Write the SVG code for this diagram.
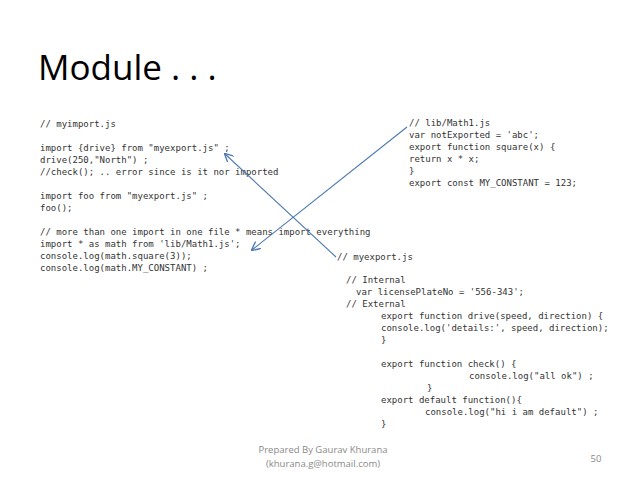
<svg xmlns="http://www.w3.org/2000/svg" width="638" height="479" viewBox="0 0 638 479">
<defs>
<style>
.c{font-family:"DejaVu Sans Mono","Liberation Mono",monospace;font-size:9px;fill:#333;white-space:pre}
.f{font-family:"Open Sans","Liberation Sans",sans-serif;font-size:9.5px;fill:#8a8a8a}
.a{stroke:#4a78b0;stroke-width:1.1;fill:none;marker-end:url(#ah)}
</style>
<marker id="ah" viewBox="0 0 10 10" refX="9" refY="5" markerWidth="9" markerHeight="9" orient="auto" markerUnits="userSpaceOnUse">
<path d="M0,0 L10,5 L0,10" fill="none" stroke="#4a78b0" stroke-width="1.5"/>
</marker>
</defs>
<rect width="638" height="479" fill="#fff"/>
<text x="38" y="80" font-family="'Open Sans','Liberation Sans',sans-serif" font-size="35" fill="#000">Module . . .</text>
<g id="myimport">
<text class="c" x="40" y="127">// myimport.js</text>
<text class="c" x="40" y="151">import {drive} from "myexport.js" ;</text>
<text class="c" x="40" y="163">drive(250,"North") ;</text>
<text class="c" x="40" y="175">//check(); .. error since is it nor imported</text>
<text class="c" x="40" y="199">import foo from "myexport.js" ;</text>
<text class="c" x="40" y="211">foo();</text>
<text class="c" x="40" y="235">// more than one import in one file * means import everything</text>
<text class="c" x="40" y="247">import * as math from 'lib/Math1.js';</text>
<text class="c" x="40" y="259">console.log(math.square(3));</text>
<text class="c" x="40" y="271">console.log(math.MY_CONSTANT) ;</text>
</g>
<g id="math1">
<text class="c" x="409" y="126">// lib/Math1.js</text>
<text class="c" x="409" y="138">var notExported = 'abc';</text>
<text class="c" x="409" y="150">export function square(x) {</text>
<text class="c" x="409" y="162">return x * x;</text>
<text class="c" x="409" y="174">}</text>
<text class="c" x="409" y="186">export const MY_CONSTANT = 123;</text>
</g>
<g id="myexport">
<text class="c" x="337" y="260">// myexport.js</text>
<text class="c" x="346" y="283">// Internal</text>
<text class="c" x="356" y="295">var licensePlateNo = '556-343';</text>
<text class="c" x="346" y="307">// External</text>
<text class="c" x="381" y="319">export function drive(speed, direction) {</text>
<text class="c" x="381" y="331">console.log('details:', speed, direction);</text>
<text class="c" x="381" y="343">}</text>
<text class="c" x="381" y="367">export function check() {</text>
<text class="c" x="469" y="379">console.log("all ok") ;</text>
<text class="c" x="427" y="391">}</text>
<text class="c" x="381" y="403">export default function(){</text>
<text class="c" x="425" y="415">console.log("hi i am default") ;</text>
<text class="c" x="381" y="427">}</text>
</g>
<g id="connectors">
<line class="a" x1="336" y1="257" x2="225" y2="154"/>
<line class="a" x1="407" y1="127" x2="252" y2="250"/>
</g>
<g id="footer">
<text class="f" x="323" y="453" text-anchor="middle">Prepared By Gaurav Khurana</text>
<text class="f" x="323" y="467" text-anchor="middle">(khurana.g@hotmail.com)</text>
<text class="f" x="596" y="462" text-anchor="middle" font-size="10.5">50</text>
</g>
</svg>
